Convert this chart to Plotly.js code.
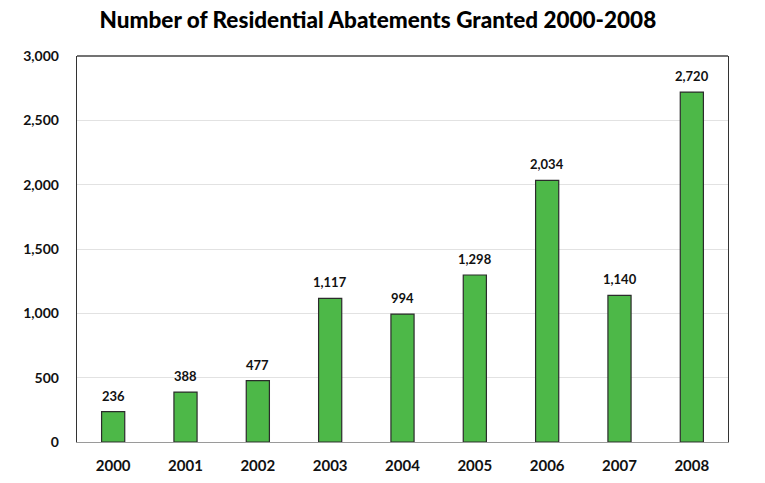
<!DOCTYPE html>
<html>
<head>
<meta charset="utf-8">
<script src="https://cdn.plot.ly/plotly-3.0.1.min.js"></script>
<style>
  body { margin: 0; background: #fff; }
  #chart { width: 765px; height: 483px; }
</style>
</head>
<body>
<div id="chart"></div>
<script>
const years = ['2000', '2001', '2002', '2003', '2004', '2005', '2006', '2007', '2008'];
const abatements = [236, 388, 477, 1117, 994, 1298, 2034, 1140, 2720];

const FONT = 'Lato, "Open Sans", sans-serif';

const trace = {
    x: years,
    y: abatements,
    type: 'bar',
    marker: {
        color: '#4db848',
        line: { color: '#2b2b2b', width: 1.2 }
    },
    hoverinfo: 'skip'
};

// value labels above each bar (x given as category index, since the
// year strings would otherwise be read as numbers)
const labels = abatements.map((v, i) => ({
    x: i,
    y: v,
    text: v.toLocaleString('en-US'),
    showarrow: false,
    yanchor: 'bottom',
    yshift: 6,
    font: { family: FONT, size: 13, color: '#111', weight: 'bold' }
}));

const layout = {
    width: 765,
    height: 483,
    margin: { l: 77, r: 37, t: 56, b: 41 },
    paper_bgcolor: '#fff',
    plot_bgcolor: '#fff',
    bargap: 0.68,
    showlegend: false,
    title: {
        text: 'Number of Residential Abatements Granted 2000-2008',
        font: { family: FONT, size: 22.5, color: '#000', weight: 900 },
        x: 0.494,
        xanchor: 'center',
        y: 0.958,
        yanchor: 'middle'
    },
    xaxis: {
        type: 'category',
        range: [-0.5, 8.5],
        showline: true,
        linecolor: '#9a9a9a',
        linewidth: 1,
        ticks: '',
        ticklabelstandoff: 10,
        tickfont: { family: FONT, size: 15, color: '#111', weight: 'bold' },
        fixedrange: true
    },
    yaxis: {
        range: [0, 3000],
        dtick: 500,
        tickformat: ',d',
        showline: true,
        linecolor: '#333',
        linewidth: 1.3,
        mirror: true,
        gridcolor: '#e2e2e2',
        gridwidth: 1,
        zeroline: false,
        ticks: '',
        ticklabelstandoff: 14,
        tickfont: { family: FONT, size: 14, color: '#111', weight: 'bold' },
        fixedrange: true
    },
    shapes: [{
        type: 'line', xref: 'paper', yref: 'paper',
        x0: 0, x1: 1, y0: 1, y1: 1,
        line: { color: '#444', width: 1.3 }
    }],
    annotations: labels
};

Plotly.newPlot('chart', [trace], layout, { displayModeBar: false, staticPlot: true });
</script>
</body>
</html>
